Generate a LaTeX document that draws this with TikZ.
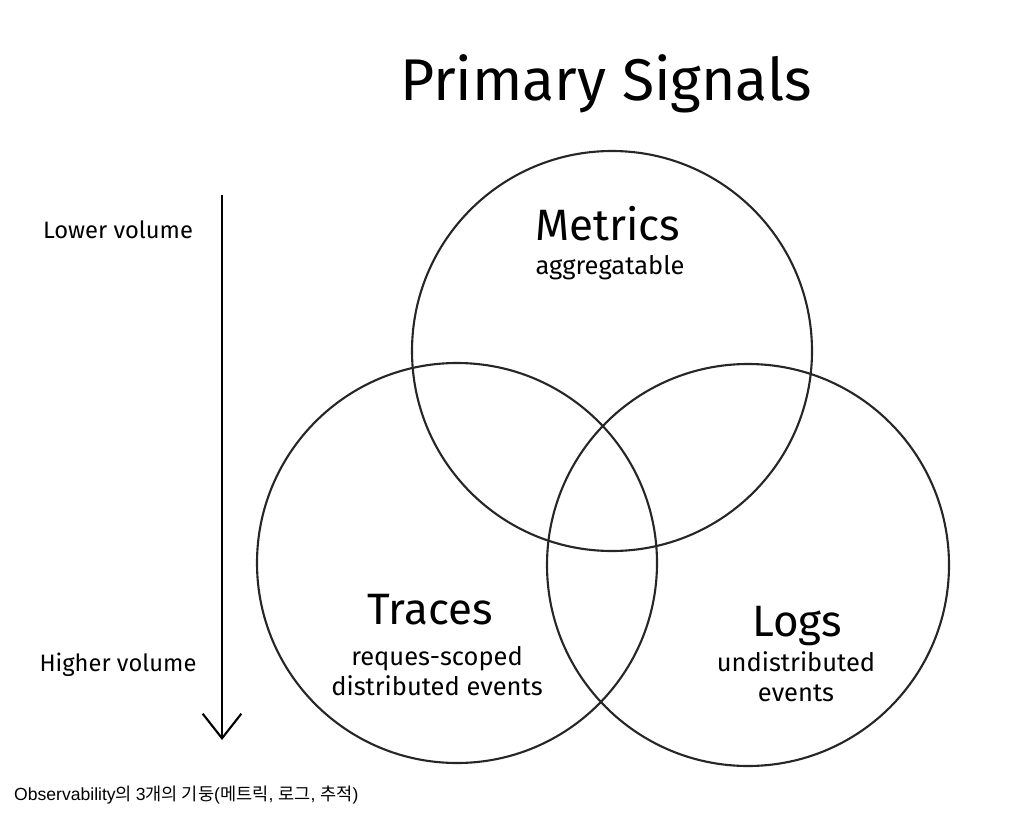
\documentclass[tikz,border=0pt]{standalone}
\usepackage{fontspec}
\setmainfont{Fira Sans}
\newfontfamily\capfont{Liberation Sans}
\newfontfamily\cjk{Noto Sans CJK KR}
\usetikzlibrary{arrows.meta}
\tikzset{
  signal/.style={draw=black!85, line width=1.2pt},
  heading/.style={font=\fontsize{25}{27}\selectfont},
  subtext/.style={font=\fontsize{14.5}{17}\selectfont, align=center},
  side/.style={font=\fontsize{13.5}{15}\selectfont}
  }
\begin{document}
\begin{tikzpicture}[x=0.02cm,y=-0.02cm]
    \useasboundingbox (0,0) rectangle (1014,831);

    % the three signals
    \draw[signal] (612,351) circle (200);
    \draw[signal] (457,563) circle (200);
    \draw[signal] (748,565) circle (201);

    \node[font=\fontsize{33.5}{36}\selectfont] (title) at (606,84) {Primary Signals};

    \node[heading] (metrics) at (608,224) {Metrics};
    \node[subtext] (metricsnote) at (610,268) {aggregatable};
    \node[heading] (traces) at (430,610) {Traces};
    \node[subtext] (tracesnote) at (437,671) {reques-scoped\\distributed events};
    \node[heading] (logs) at (797,626) {Logs};
    \node[subtext] (logsnote) at (796,677) {undistributed\\events};

    % volume axis
    \node[side] (lower) at (118,230) {Lower volume};
    \node[side] (higher) at (118,665) {Higher volume};
    \coordinate (top) at (222,195);
    \coordinate (bottom) at (222,740);
    \draw[line width=1.2pt, -{Straight Barb[length=14pt,width=22pt]}] (top) -- (bottom);

    \node[anchor=west, font=\fontsize{10}{12}\selectfont] (caption) at (8,795)
      {\capfont Observability\cjk 의 \capfont 3\cjk 개의 기둥\capfont (\cjk 메트릭\capfont , \cjk 로그\capfont , \cjk 추적\capfont )};
\end{tikzpicture}
\end{document}
